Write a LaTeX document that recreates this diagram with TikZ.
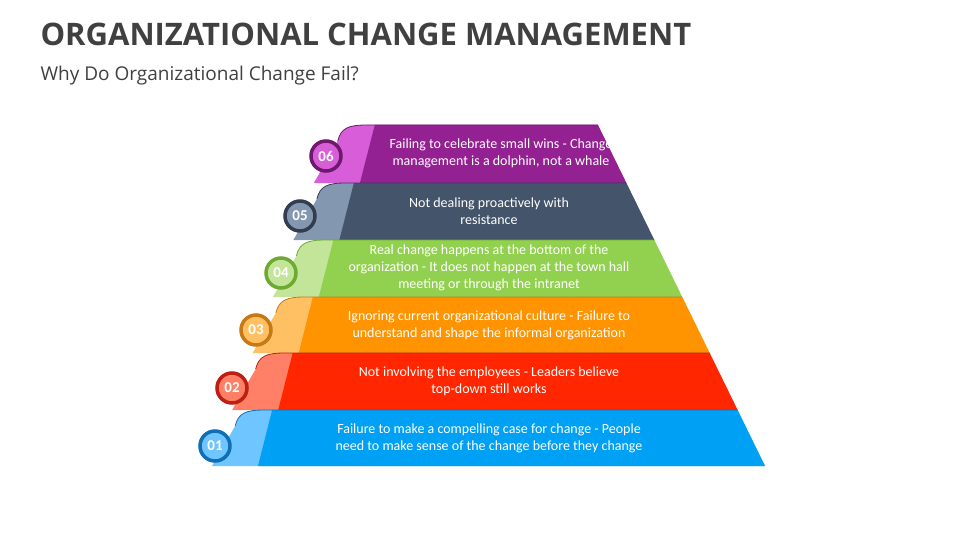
\documentclass[tikz,border=0pt]{standalone}
\usepackage{fontspec}
\setmainfont{Carlito}
\newfontfamily\titlefont{Open Sans}
\definecolor{cA}{RGB}{0,160,245}\definecolor{lA}{RGB}{110,197,255}\definecolor{dA}{RGB}{16,110,180}
\definecolor{cB}{RGB}{255,38,0}\definecolor{lB}{RGB}{255,128,102}\definecolor{dB}{RGB}{190,30,20}
\definecolor{cC}{RGB}{255,147,0}\definecolor{lC}{RGB}{255,192,100}\definecolor{dC}{RGB}{200,120,20}
\definecolor{cD}{RGB}{146,208,80}\definecolor{lD}{RGB}{194,229,154}\definecolor{dD}{RGB}{110,170,50}
\definecolor{cE}{RGB}{68,84,106}\definecolor{lE}{RGB}{132,151,176}\definecolor{dE}{RGB}{50,62,80}
\definecolor{cF}{RGB}{148,33,146}\definecolor{lF}{RGB}{215,94,216}\definecolor{dF}{RGB}{110,25,110}
\definecolor{titlegray}{RGB}{64,64,64}
\tikzset{bandtext/.style={text=white,font=\fontsize{14}{17}\selectfont,align=center},
numc/.style={circle,minimum size=30pt,inner sep=0pt,line width=3.5pt,text=white,font=\bfseries\fontsize{15}{15}\selectfont}}
\begin{document}
\begin{tikzpicture}[x=1pt,y=-1pt]
\useasboundingbox (0,0) rectangle (960,540);
\node[anchor=west,text=titlegray,font=\titlefont\bfseries\fontsize{31}{34}\selectfont] (title) at (37,34) {ORGANIZATIONAL CHANGE MANAGEMENT};
\node[anchor=west,text=titlegray,font=\titlefont\fontsize{19}{22}\selectfont] (sub) at (37,76) {Why Do Organizational Change Fail?};
\foreach \i/\yb/\yt/\cc/\cl/\cd/\tx/\ty/\cx/\cy/\txt in {
6/183/125/cF/lF/dF/501/153/326/156/{Failing to celebrate small wins - Change\\management is a dolphin, not a whale},
5/240/183/cE/lE/dE/489/211/300/216/{Not dealing proactively with\\resistance},
4/297/240/cD/lD/dD/489/268/281/273/{Real change happens at the bottom of the\\organization - It does not happen at the town hall\\meeting or through the intranet},
3/353/297/cC/lC/dC/489/325/256/330/{Ignoring current organizational culture - Failure to\\understand and shape the informal organization},
2/410/353/cB/lB/dB/489/381/232/388/{Not involving the employees - Leaders believe\\top-down still works},
1/466/410/cA/lA/dA/489/438/215/446/{Failure to make a compelling case for change - People\\need to make sense of the change before they change}}{
\pgfmathsetmacro\xLb{212+(466-\yb)*0.36}
\pgfmathsetmacro\xLt{212+(466-\yt)*0.36}
\pgfmathsetmacro\xRb{765-(466-\yb)*0.49}
\pgfmathsetmacro\xRt{765-(466-\yt)*0.49}
\fill[\cl] (\xLb,\yb) -- (\xLt+3,\yt+16) .. controls (\xLt+6,\yt+3) and (\xLt+14,\yt) .. (\xLt+32,\yt) -- (\xRt,\yt) -- (\xRb,\yb) -- cycle;
\fill[\cc] (\xLb+46,\yb) -- (\xLt+40,\yt) -- (\xRt,\yt) -- (\xRb,\yb) -- cycle;
\draw[\cd,line width=0.8pt] (\xLt+3,\yt+16) .. controls (\xLt+6,\yt+3) and (\xLt+14,\yt) .. (\xLt+32,\yt) -- (\xRt,\yt);
\node[numc,draw=\cd,fill=\cl] (n\i) at (\cx,\cy) {0\i};
\node[bandtext] (t\i) at (\tx,\ty) {\txt};
}
\end{tikzpicture}
\end{document}
